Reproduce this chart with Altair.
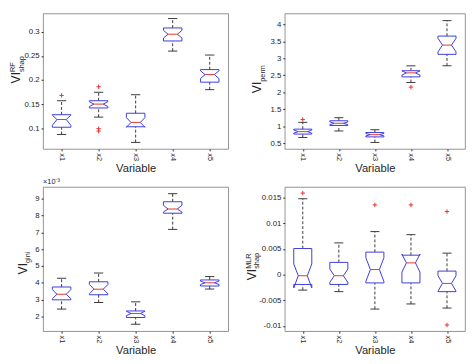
import altair as alt
import pandas as pd

variables = ["x1", "x2", "x3", "x4", "x5"]
positions = [1, 2, 3, 4, 5]

# ---- Panel 1: VI^RF_shap ----
rf_q1 = [0.102, 0.142, 0.103, 0.281, 0.1955]
rf_med = [0.118, 0.150, 0.112, 0.295, 0.2113]
rf_q3 = [0.128, 0.157, 0.131, 0.308, 0.2216]
rf_nlo = [0.106, 0.145, 0.102, 0.287, 0.203]
rf_nhi = [0.127, 0.155, 0.122, 0.303, 0.219]
rf_wlo = [0.087, 0.123, 0.0705, 0.260, 0.180]
rf_whi = [0.157, 0.1745, 0.1695, 0.3275, 0.2518]
rf_out_var = ["x1", "x2", "x2", "x2"]
rf_out_val = [0.168, 0.186, 0.099, 0.094]
rf_ticks = [0.1, 0.15, 0.2, 0.25, 0.3]

# ---- Panel 2: VI_perm ----
pm_q1 = [0.773, 1.027, 0.69, 2.455, 3.118]
pm_med = [0.845, 1.09, 0.755, 2.573, 3.39]
pm_q3 = [0.918, 1.164, 0.818, 2.636, 3.655]
pm_nlo = [0.80, 1.05, 0.72, 2.51, 3.19]
pm_nhi = [0.89, 1.13, 0.79, 2.63, 3.59]
pm_wlo = [0.673, 0.864, 0.527, 2.29, 2.782]
pm_whi = [1.118, 1.255, 0.90, 2.78, 4.11]
pm_out_var = ["x1", "x4"]
pm_out_val = [1.20, 2.155]
pm_ticks = [0.5, 1, 1.5, 2, 2.5, 3, 3.5, 4]

# ---- Panel 3: VI_gini (values in units of 1e-3) ----
gn_q1 = [2.99, 3.29, 1.94, 8.13, 3.81]
gn_med = [3.32, 3.62, 2.18, 8.38, 4.00]
gn_q3 = [3.75, 4.06, 2.33, 8.81, 4.17]
gn_nlo = [3.05, 3.35, 2.05, 8.20, 3.90]
gn_nhi = [3.60, 3.90, 2.31, 8.60, 4.10]
gn_wlo = [2.44, 2.83, 1.54, 7.17, 3.63]
gn_whi = [4.27, 4.58, 2.87, 9.29, 4.37]
gn_out_var = []
gn_out_val = []
gn_ticks = [2, 3, 4, 5, 6, 7, 8, 9]

# ---- Panel 4: VI^MLR_shap ----
ml_q1 = [-0.0019, -0.0019, -0.0016, -0.0016, -0.0033]
ml_med = [-0.0002, -0.0002, 0.0010, 0.0023, -0.0017]
ml_q3 = [0.0051, 0.0024, 0.0044, 0.0038, 0.0007]
ml_nlo = [-0.0026, -0.0015, -0.0013, 0.0005, -0.0032]
ml_nhi = [0.0021, 0.0011, 0.0033, 0.0040, -0.0002]
ml_wlo = [-0.0030, -0.0033, -0.0067, -0.0057, -0.0065]
ml_whi = [0.0148, 0.0062, 0.0084, 0.0078, 0.0042]
ml_out_var = ["x1", "x3", "x4", "x5", "x5"]
ml_out_val = [0.0159, 0.0136, 0.0136, 0.0123, -0.0098]
ml_ticks = [-0.01, -0.005, 0, 0.005, 0.01, 0.015]

BH = 0.25   # box half width
NH = 0.125  # notch half width
CH = 0.125  # cap half width

FONT = "Liberation Sans"
TXT = "#262626"
BLUE = "#3a3ae0"
RED = "#e8302a"
PLUS = "M-1,0L1,0M0,-1L0,1"


def panel(q1, med, q3, nlo, nhi, wlo, whi, out_var, out_val, ticks, ydom,
          width, height, sup, sub, title_x, title_y, exponent=None):
    pos_of = dict(zip(variables, positions))
    rows = []
    for i, v in enumerate(variables):
        p = positions[i]
        pts = [(p - BH, q1[i]), (p + BH, q1[i]), (p + BH, nlo[i]), (p + NH, med[i]),
               (p + BH, nhi[i]), (p + BH, q3[i]), (p - BH, q3[i]), (p - BH, nhi[i]),
               (p - NH, med[i]), (p - BH, nlo[i]), (p - BH, q1[i])]
        for k, (x, y) in enumerate(pts):
            rows.append({"var": v, "k": k, "x": x, "y": y})
    poly = pd.DataFrame(rows)
    stats = pd.DataFrame({
        "var": variables, "pos": positions, "q1": q1, "q3": q3, "med": med,
        "wlo": wlo, "whi": whi,
        "lx": [p - NH for p in positions], "rx": [p + NH for p in positions],
        "cl": [p - CH for p in positions], "cr": [p + CH for p in positions],
    })
    outs = pd.DataFrame({"pos": [pos_of[v] for v in out_var], "val": out_val})

    xaxis = alt.Axis(values=positions, labelExpr="'x' + datum.value", labelAngle=90,
                     labelAlign="left", labelBaseline="middle", title="Variable",
                     titleFont=FONT, titleFontSize=11.5, titleFontWeight="normal",
                     titleColor=TXT, labelFont=FONT, labelFontSize=7.5, labelColor=TXT,
                     tickSize=2, tickColor=TXT, domain=False, grid=False,
                     labelPadding=2, titlePadding=2)
    yaxis = alt.Axis(values=ticks, labelExpr="'' + datum.value", title=None,
                     labelFont=FONT, labelFontSize=8, labelColor=TXT,
                     tickSize=2, tickColor=TXT, domain=False, grid=False, labelPadding=2)
    xs = alt.Scale(domain=[0.5, 5.5], nice=False, zero=False)
    ys = alt.Scale(domain=ydom, nice=False, zero=False)

    def X(f):
        return alt.X(f, type="quantitative", scale=xs, axis=xaxis)

    def Y(f):
        return alt.Y(f, type="quantitative", scale=ys, axis=yaxis)

    layers = []
    base = alt.Chart(stats)
    layers.append(base.mark_rule(color="#222", strokeDash=[3, 2], strokeWidth=0.9)
                  .encode(x=X("pos"), y=Y("q3"), y2="whi"))
    layers.append(base.mark_rule(color="#222", strokeDash=[3, 2], strokeWidth=0.9)
                  .encode(x=X("pos"), y=Y("wlo"), y2="q1"))
    layers.append(base.mark_rule(color="#222", strokeWidth=0.9)
                  .encode(x=X("cl"), x2="cr", y=Y("whi")))
    layers.append(base.mark_rule(color="#222", strokeWidth=0.9)
                  .encode(x=X("cl"), x2="cr", y=Y("wlo")))
    layers.append(alt.Chart(poly).mark_line(color=BLUE, strokeWidth=1)
                  .encode(x=X("x"), y=Y("y"), detail="var:N", order="k:Q"))
    layers.append(base.mark_rule(color=RED, strokeWidth=1)
                  .encode(x=X("lx"), x2="rx", y=Y("med")))
    if len(outs):
        layers.append(alt.Chart(outs).mark_point(shape=PLUS, color=RED, size=20,
                                                 strokeWidth=1, filled=False, opacity=1)
                      .encode(x=X("pos"), y=Y("val")))

    def txt(s, size, dx, align):
        return alt.Chart(pd.DataFrame({"t": [s]})).mark_text(
            angle=270, align=align, baseline="alphabetic", font=FONT,
            fontSize=size, color=TXT).encode(
            text="t:N", x=alt.value(title_x + dx), y=alt.value(title_y))

    layers.append(txt("VI", 12.5, 0, "right"))
    if sup:
        layers.append(txt(sup, 7.5, -5, "left"))
    if sub:
        layers.append(txt(sub, 7.5, 4, "left"))
    if exponent:
        layers.append(alt.Chart(pd.DataFrame({"t": [exponent]})).mark_text(
            align="left", baseline="bottom", font=FONT, fontSize=7.5, color=TXT)
            .encode(text="t:N", x=alt.value(0), y=alt.value(-1)))
    return alt.layer(*layers).properties(width=width, height=height)


p1 = panel(rf_q1, rf_med, rf_q3, rf_nlo, rf_nhi, rf_wlo, rf_whi, rf_out_var, rf_out_val,
           rf_ticks, [0.057, 0.338], 190, 139, "RF", "shap", -24, 60)
p2 = panel(pm_q1, pm_med, pm_q3, pm_nlo, pm_nhi, pm_wlo, pm_whi, pm_out_var, pm_out_val,
           pm_ticks, [0.336, 4.32], 185, 139, None, "perm", -24, 70)
p3 = panel(gn_q1, gn_med, gn_q3, gn_nlo, gn_nhi, gn_wlo, gn_whi, gn_out_var, gn_out_val,
           gn_ticks, [1.13, 9.69], 190, 148, None, "gini", -17, 78, exponent="×10⁻³")
p4 = panel(ml_q1, ml_med, ml_q3, ml_nlo, ml_nhi, ml_wlo, ml_whi, ml_out_var, ml_out_val,
           ml_ticks, [-0.011, 0.0171], 185, 148, "MLR", "shap", -30, 84)

chart = alt.concat(p1, p2, p3, p4, columns=2, spacing={"row": 39, "column": 58},
                   bounds="flush").properties(
    padding={"left": 0, "top": 0, "right": 0, "bottom": 0},
    autosize=alt.AutoSizeParams(type="pad"),
    background="white").configure_view(stroke="#777", strokeWidth=0.8)

chart.save("out.html", embed_options={"renderer": "svg", "actions": False})
